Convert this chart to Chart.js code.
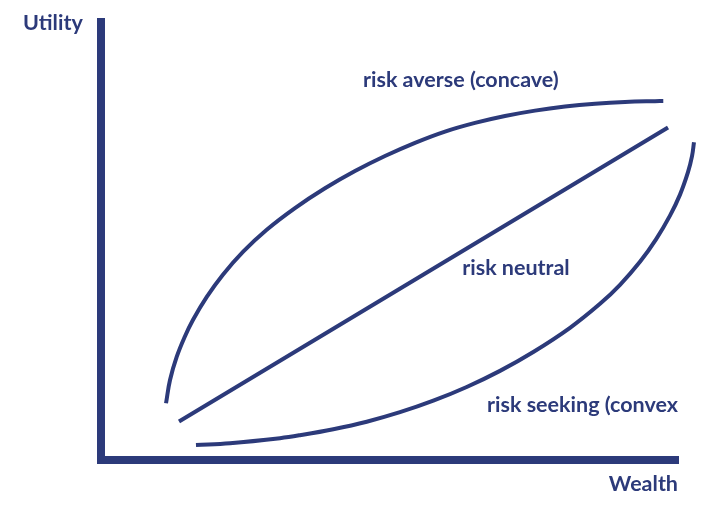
<!DOCTYPE html>
<html>
<head>
<meta charset="utf-8">
<script src="https://cdn.jsdelivr.net/npm/chart.js@4/dist/chart.umd.min.js"></script>
<style>
  html, body { margin: 0; padding: 0; background: #ffffff; }
  #wrap { width: 705px; height: 511px; position: relative; }
</style>
</head>
<body>
<div id="wrap"><canvas id="c"></canvas></div>
<script>
// Wealth (x) and utility (y), in axis units 0..100
const concaveX = [11.27, 11.96, 13.13, 14.52, 15.93, 18.36, 21.16, 24.64, 28.67, 33.62, 38.82, 44.02, 49.22, 54.42, 59.62, 64.82, 70.02, 75.22, 80.42, 85.62, 90.81, 96.01, 97.45];
const concaveY = [12.95, 18.26, 23.58, 28.15, 31.96, 37.28, 42.35, 47.56, 52.51, 57.51, 62.03, 65.97, 69.40, 72.41, 74.98, 76.96, 78.54, 79.77, 80.70, 81.35, 81.76, 81.93, 81.94];
const neutralX = [13.52, 98.27];
const neutralY = [8.79, 75.91];
const convexX = [16.46, 22.36, 31.02, 34.49, 40.26, 46.05, 51.82, 57.59, 63.38, 69.15, 74.92, 81.28, 86.48, 89.95, 93.41, 96.19, 98.61, 100.35, 101.73, 102.43, 102.77];
const convexY = [3.42, 3.85, 4.99, 5.66, 7.03, 8.74, 10.91, 13.54, 16.67, 20.35, 24.66, 30.18, 35.66, 40.00, 45.25, 50.37, 55.80, 60.59, 65.71, 69.36, 72.56];
const curveLabels = ['risk averse (concave)', 'risk neutral', 'risk seeking (convex'];
const curveLabelX = [45.4, 62.6, 66.9];
const curveLabelY = [85.2, 42.2, 11.0];
const yTitle = 'Utility';
const xTitle = 'Wealth';
const axisMin = 0;
const axisMax = 100;

const NAVY = '#2c3a7a';
const FONT = 'bold 21.5px Lato, "Open Sans", sans-serif';

function pts(xs, ys) { return xs.map((x, i) => ({ x: x, y: ys[i] })); }

const textPlugin = {
  id: 'texts',
  afterDraw(chart) {
    const { ctx, chartArea, scales } = chart;
    ctx.save();
    ctx.fillStyle = NAVY;
    ctx.font = FONT;
    ctx.textBaseline = 'alphabetic';
    ctx.textAlign = 'left';
    curveLabels.forEach((t, i) => {
      ctx.fillText(t, scales.x.getPixelForValue(curveLabelX[i]), scales.y.getPixelForValue(curveLabelY[i]));
    });
    ctx.fillText(yTitle, chartArea.left - 78, chartArea.top + 8);
    ctx.textAlign = 'right';
    ctx.fillText(xTitle, chartArea.right, chartArea.bottom + 31);
    ctx.restore();
  }
};

const common = { showLine: true, borderColor: NAVY, borderWidth: 4, pointRadius: 0, fill: false, clip: false, tension: 0.4, borderCapStyle: 'butt' };

new Chart(document.getElementById('c'), {
  type: 'scatter',
  data: {
    datasets: [
      Object.assign({ label: curveLabels[0], data: pts(concaveX, concaveY) }, common),
      Object.assign({ label: curveLabels[1], data: pts(neutralX, neutralY) }, common),
      Object.assign({ label: curveLabels[2], data: pts(convexX, convexY) }, common)
    ]
  },
  options: {
    responsive: true,
    maintainAspectRatio: false,
    animation: false,
    layout: { padding: { left: 101, right: 27, top: 22, bottom: 51 } },
    plugins: { legend: { display: false }, tooltip: { enabled: false }, title: { display: false } },
    scales: {
      x: {
        type: 'linear', bounds: 'data',
        afterDataLimits: (s) => { s.min = axisMin; s.max = axisMax; },
        ticks: { display: false },
        grid: { display: false, drawTicks: false },
        border: { display: true, color: NAVY, width: 8 }
      },
      y: {
        type: 'linear', min: axisMin, max: axisMax,
        ticks: { display: false },
        grid: { display: false, drawTicks: false },
        border: { display: true, color: NAVY, width: 8 }
      }
    }
  },
  plugins: [textPlugin]
});
</script>
</body>
</html>
